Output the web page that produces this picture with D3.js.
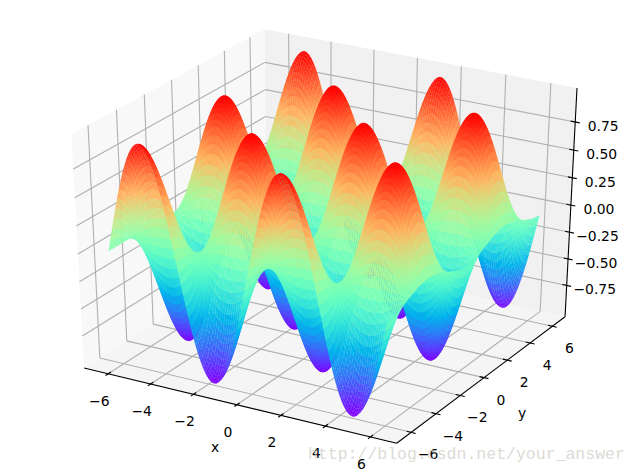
<!DOCTYPE html>
<html>
<head>
<meta charset="utf-8">
<style>
html,body{margin:0;padding:0;background:#fff;overflow:hidden}
svg{display:block}
text{font-family:"DejaVu Sans",sans-serif;font-size:13.9px;fill:#000}
</style>
<script src="https://cdn.jsdelivr.net/npm/d3@7/dist/d3.min.js"></script>
</head>
<body>
<svg id="chart" width="640" height="473"></svg>
<script>
// Height profile read along x (one value per grid column)
const xProfile = [0,.100,.199,.296,.389,.479,.565,.644,.717,.783,.841,.891,.932,.964,.985,.997,1.000,.992,.974,.946,.909,.863,.808,.746,.675,.598,.516,.427,.335,.239,.141,.042,-.058,-.158,-.256,-.351,-.443,-.530,-.612,-.688,-.757,-.818,-.872,-.916,-.952,-.978,-.994,-1.000,-.996,-.982,-.959,-.926,-.883,-.832,-.773,-.706,-.631,-.551,-.465,-.374,-.279,-.182,-.083,
.017,.117,.215,.312,.405,.494,.578,.657,.729,.794,.850,.899,.938,.968,.988,.999,.999,.989,.970,.941,.902,.855,.799,.734,.663,.585,.501,.412,.319,.223,.125,.025,-.075,-.174,-.272,-.367,-.458,-.544,-.625,-.700,-.768,-.828,-.880,-.923,-.957,-.981,-.995,-1.000,-.995,-.979,-.954,-.919,-.876,-.823,-.762,-.694,-.618,-.537,-.450,-.358,-.263,-.166,-.066];
// Height profile read along y (one value per grid row)
const yProfile = [1.000,.995,.980,.955,.921,.878,.825,.765,.697,.622,.540,.454,.362,.267,.170,.071,-.029,-.129,-.227,-.323,-.416,-.505,-.589,-.666,-.737,-.801,-.857,-.904,-.942,-.971,-.990,-.999,-.998,-.987,-.967,-.936,-.897,-.848,-.791,-.726,-.654,-.575,-.490,-.401,-.307,-.211,-.112,-.012,.087,.187,.284,.378,.469,.554,.635,.709,.776,.835,.886,.927,.960,.983,.996,
1.000,.993,.977,.950,.914,.869,.816,.754,.685,.608,.526,.439,.347,.251,.153,.054,-.046,-.146,-.243,-.339,-.431,-.519,-.602,-.679,-.749,-.811,-.865,-.911,-.948,-.975,-.992,-1.000,-.997,-.985,-.962,-.930,-.889,-.839,-.781,-.714,-.641,-.561,-.476,-.386,-.292,-.194,-.095,.004,.104,.203,.300,.393,.483,.568,.647,.720,.786,.844,.893,.934,.965,.986,.998];
const gridStart = -6.283, gridStep = 0.1;
const xTicks = [-6,-4,-2,0,2,4,6];
const yTicks = [-6,-4,-2,0,2,4,6];
const zTicks = [-0.75,-0.5,-0.25,0,0.25,0.5,0.75];
const xLim = [-7.15,7.15], yLim = [-7.15,7.15], zLim = [-1.05,1.05];
const xName = "x", yName = "y";
const watermark = "http://blog.csdn.net/your_answer";

const xn = d3.scaleLinear().domain(xLim).range([-.5,.5]);
const yn = d3.scaleLinear().domain(yLim).range([-.5,.5]);
const zn = d3.scaleLinear().domain(zLim).range([-.5,.5]);
const sxScale = d3.scaleLinear().domain([-1,1]).range([328.3-360.8,328.3+360.8]);
const syScale = d3.scaleLinear().domain([-1,1]).range([229.2+266.9,229.2-266.9]);
const DIST = 10;
// elev 30, azim -60 view
function view(x,y,z){
  const a=xn(x),b=yn(y),c=zn(z);
  const u=.8660254*a+.5*b, v=-.25*a+.4330127*b+.8660254*c, w=.4330127*a-.75*b+.5*c;
  const f=DIST/(DIST-w);
  return [sxScale(u*f),syScale(v*f),w];
}
const P=(x,y,z)=>{const p=view(x,y,z);return [p[0],p[1]];};

const svg=d3.select("#chart");
const line=d3.line();
const [x0,x1]=xLim,[y0,y1]=yLim,[z0,z1]=zLim;

// panes
const panes=[
 {c:"#f8f8f8",p:[[x0,y0,z0],[x0,y1,z0],[x0,y1,z1],[x0,y0,z1]]},
 {c:"#f1f1f1",p:[[x0,y1,z0],[x1,y1,z0],[x1,y1,z1],[x0,y1,z1]]},
 {c:"#f5f5f5",p:[[x0,y0,z0],[x1,y0,z0],[x1,y1,z0],[x0,y1,z0]]}
];
svg.append("g").selectAll("path").data(panes).join("path")
  .attr("d",d=>line(d.p.map(q=>P(...q)))+"Z").attr("fill",d=>d.c).attr("stroke","none");

// grid
const gridSegs=[];
xTicks.forEach(t=>{gridSegs.push([[t,y0,z0],[t,y1,z0]],[[t,y1,z0],[t,y1,z1]]);});
yTicks.forEach(t=>{gridSegs.push([[x0,t,z0],[x1,t,z0]],[[x0,t,z0],[x0,t,z1]]);});
zTicks.forEach(t=>{gridSegs.push([[x0,y0,t],[x0,y1,t]],[[x0,y1,t],[x1,y1,t]]);});
svg.append("g").selectAll("path").data(gridSegs).join("path")
  .attr("d",d=>line(d.map(q=>P(...q)))).attr("fill","none").attr("stroke","#b0b0b0").attr("stroke-width",1.1);

// axis lines
const axes=[[[x0,y0,z0],[x1,y0,z0]],[[x1,y0,z0],[x1,y1,z0]],[[x1,y1,z0],[x1,y1,z1]]];
svg.append("g").selectAll("path").data(axes).join("path")
  .attr("d",d=>line(d.map(q=>P(...q)))).attr("fill","none").attr("stroke","#000").attr("stroke-width",1.1);

// ticks
const dY=(y1-y0)*.014, dX=(x1-x0)*.014;
const tickSegs=[];
xTicks.forEach(t=>tickSegs.push([[t,y0+dY,z0],[t,y0-dY,z0]]));
yTicks.forEach(t=>tickSegs.push([[x1-dX,t,z0],[x1+dX,t,z0]]));
zTicks.forEach(t=>tickSegs.push([[x1-dX,y1,t],[x1+dX,y1,t]]));
svg.append("g").selectAll("path").data(tickSegs).join("path")
  .attr("d",d=>line(d.map(q=>P(...q)))).attr("fill","none").attr("stroke","#000").attr("stroke-width",1.1);

const fmtN=t=>String(t).replace("-","\u2212");
const fmtZ=t=>d3.format(".2f")(t).replace("-","\u2212");
const labels=[];
xTicks.forEach(t=>{const p=P(t,y0,z0);labels.push({x:p[0]-9,y:p[1]+27,t:fmtN(t)});});
yTicks.forEach(t=>{const p=P(x1,t,z0);labels.push({x:p[0]+17,y:p[1]+22,t:fmtN(t)});});
zTicks.forEach(t=>{const p=P(x1,y1,t);labels.push({x:p[0]+28,y:p[1]+4,t:fmtZ(t)});});
labels.push({x:215,y:447,t:xName},{x:522,y:413,t:yName});
svg.append("g").selectAll("text").data(labels).join("text")
  .attr("x",d=>d.x).attr("y",d=>d.y).attr("text-anchor","middle").attr("dominant-baseline","central").text(d=>d.t);

// surface
const rainbow=v=>{
  const q=Math.min(255,Math.floor(v*256))/255;
  return d3.rgb(255*Math.min(1,Math.abs(2*q-.5)),255*Math.sin(Math.PI*q),255*Math.cos(Math.PI*q/2)).formatHex();
};
const xs=xProfile.map((_,i)=>gridStart+i*gridStep);
const ys=yProfile.map((_,j)=>gridStart+j*gridStep);
const height=(i,j)=>xProfile[i]*yProfile[j];
const facets=[];
for(let j=0;j<ys.length-1;j++)for(let i=0;i<xs.length-1;i++){
  const c=[[i,j],[i+1,j],[i+1,j+1],[i,j+1]].map(([a,b])=>view(xs[a],ys[b],height(a,b)));
  const zm=(height(i,j)+height(i+1,j)+height(i+1,j+1)+height(i,j+1))/4;
  facets.push({c,zm,w:d3.mean(c,q=>q[2])});
}
facets.sort((a,b)=>a.w-b.w);
const color=d3.scaleLinear().domain(d3.extent(facets,f=>f.zm)).range([0,1]);
svg.append("g").selectAll("path").data(facets).join("path")
  .attr("d",f=>"M"+f.c.map(q=>q[0].toFixed(2)+","+q[1].toFixed(2)).join("L")+"Z")
  .attr("fill",f=>rainbow(color(f.zm)))
  .attr("stroke",f=>rainbow(color(f.zm))).attr("stroke-width",0.2);

// watermark
svg.append("text").attr("x",308).attr("y",459)
  .style("font-family",'"Liberation Mono",monospace').style("font-size","16.5px").style("fill","#cfcdc4").style("opacity",.7)
  .text(watermark);
</script>
</body>
</html>
